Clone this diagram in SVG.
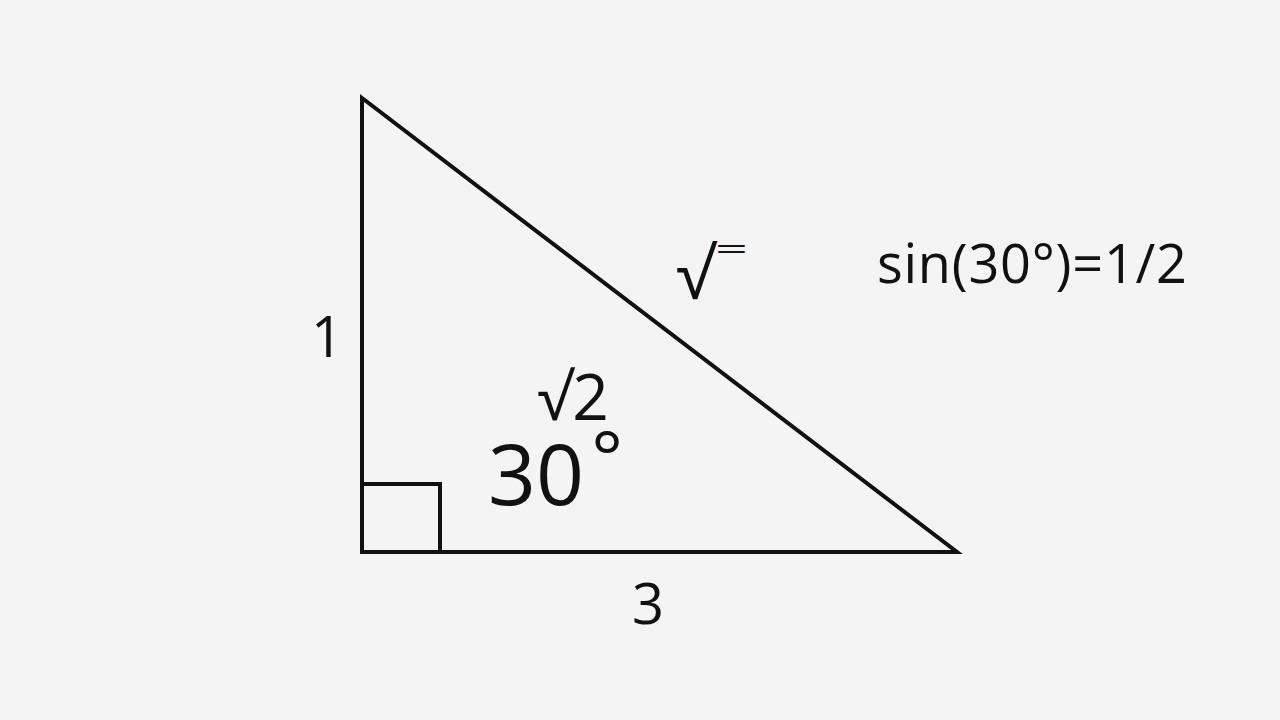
<svg xmlns="http://www.w3.org/2000/svg" width="1280" height="720" viewBox="0 0 1280 720">
<style>
.t{font-family:"Open Sans","Noto Sans","DejaVu Sans",sans-serif;fill:#111}
.ln{fill:none;stroke:#111;stroke-width:4;stroke-linejoin:miter}
</style>
<rect width="1280" height="720" fill="#f4f4f4"/>
<g id="triangle">
<polygon class="ln" points="362,98 362,552 957,552"/>
<polyline class="ln" points="362,484 440,484 440,552"/>
</g>
<g id="connectors"></g>
<g id="labels">
<text class="t" x="327" y="357" font-size="56" text-anchor="middle">1</text>
<text class="t" x="648" y="624" font-size="56" text-anchor="middle">3</text>
<text class="t" x="573" y="420" font-size="64" text-anchor="middle">√2</text>
<text class="t" x="488" y="505" font-size="84">30</text>
<text class="t" x="607" y="484" font-size="74" text-anchor="middle">°</text>
<text class="t" x="676" y="299" font-size="70">√</text>
<text class="t" x="715" y="259" font-size="30" textLength="33" lengthAdjust="spacingAndGlyphs">=</text>
<text class="t" x="877" y="283" font-size="54" textLength="310" lengthAdjust="spacing">sin(30°)=1/2</text>
</g>
</svg>
